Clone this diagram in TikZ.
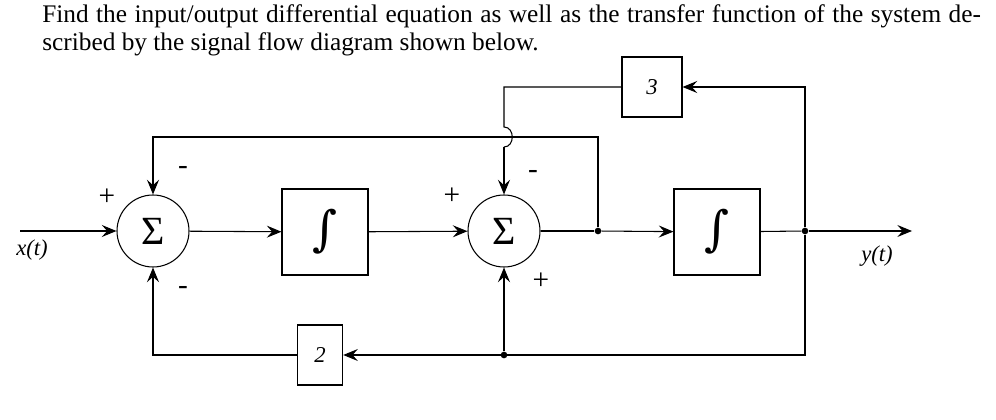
\documentclass[tikz,border=0pt]{standalone}
\usepackage{fontspec}
\setmainfont{Liberation Serif}
\newfontfamily\dvserif{DejaVu Serif}
\usetikzlibrary{arrows.meta}
\begin{document}
\begin{tikzpicture}[x=0.75pt,y=-0.75pt,
  sumnode/.style={circle,draw,thick,minimum size=54pt,inner sep=0pt,font=\fontsize{30}{30}\selectfont},
  intbox/.style={draw,thick,minimum width=64.5pt,minimum height=64.5pt,inner sep=0pt,font=\dvserif\fontsize{36}{36}\selectfont},
  gainbox/.style={draw,thick,inner sep=0pt,font=\itshape\fontsize{17}{17}\selectfont},
  sig/.style={thick},
  arr/.style={thick,-{Stealth[length=11pt,width=9pt,inset=4pt]}},
  dot/.style={circle,fill,inner sep=0pt,minimum size=5pt},
  sgn/.style={font=\fontsize{22}{22}\selectfont}]
\useasboundingbox (0,0) rectangle (996,420);
\node[anchor=north west,text width=704pt,align=justify,inner sep=0pt,font=\fontsize{19}{21}\selectfont] (txt) at (42,4)
 {Find the input/output differential equation as well as the transfer function of the system described by the signal flow diagram shown below.};
\node[sumnode] (s1) at (153,231) {Σ};
\node[sumnode] (s2) at (504,231) {Σ};
\node[intbox] (i1) at (325,232) {∫};
\node[intbox] (i2) at (717,232) {∫};
\node[gainbox,minimum width=45pt,minimum height=45pt] (g3) at (652,87) {3};
\node[gainbox,minimum width=34pt,minimum height=45pt] (g2) at (320,355) {2};
\coordinate (xin) at (20,231);
\coordinate (yout) at (912,231);
\node[dot] (d1) at (598,231) {};
\node[dot] (d2) at (805,231) {};
\node[dot] (d3) at (504,355) {};
\coordinate (c1) at (598,137);
\coordinate (c2) at (153,137);
\coordinate (c3) at (805,87);
\coordinate (c4) at (504,87);
\coordinate (c5) at (805,355);
\coordinate (c6) at (153,355);
\coordinate (h1) at (504,127);
\coordinate (h2) at (504,147);
\node[font=\itshape\fontsize{17}{17}\selectfont] (xl) at (32,250) {x(t)};
\node[font=\itshape\fontsize{17}{17}\selectfont] (yl) at (877,256) {y(t)};
\draw[arr] (xin) -- (s1);
\draw[arr] (s1) -- (i1);
\draw[arr] (i1) -- (s2);
\draw[sig] (s2) -- (d1);
\draw[arr] (d1) -- (i2);
\draw[sig] (i2) -- (d2);
\draw[arr] (d2) -- (yout);
\draw[arr] (d1) -- (c1) -- (c2) -- (s1);
\draw[arr] (d2) -- (c3) -- (g3);
\draw[sig] (g3) -- (c4) -- (h1) .. controls (515,127) and (515,147) .. (h2);
\draw[arr] (h2) -- (s2);
\draw[arr] (d2) -- (c5) -- (g2);
\draw[arr] (g2) -- (c6) -- (s1);
\draw[arr] (d3) -- (s2);
\node[sgn] (p1) at (107,197) {+};
\node[sgn] (m1) at (183,170) {-};
\node[sgn] (m2) at (183,290) {-};
\node[sgn] (p2) at (452,196) {+};
\node[sgn] (m3) at (533,174) {-};
\node[sgn] (p3) at (541,281) {+};
\end{tikzpicture}
\end{document}
